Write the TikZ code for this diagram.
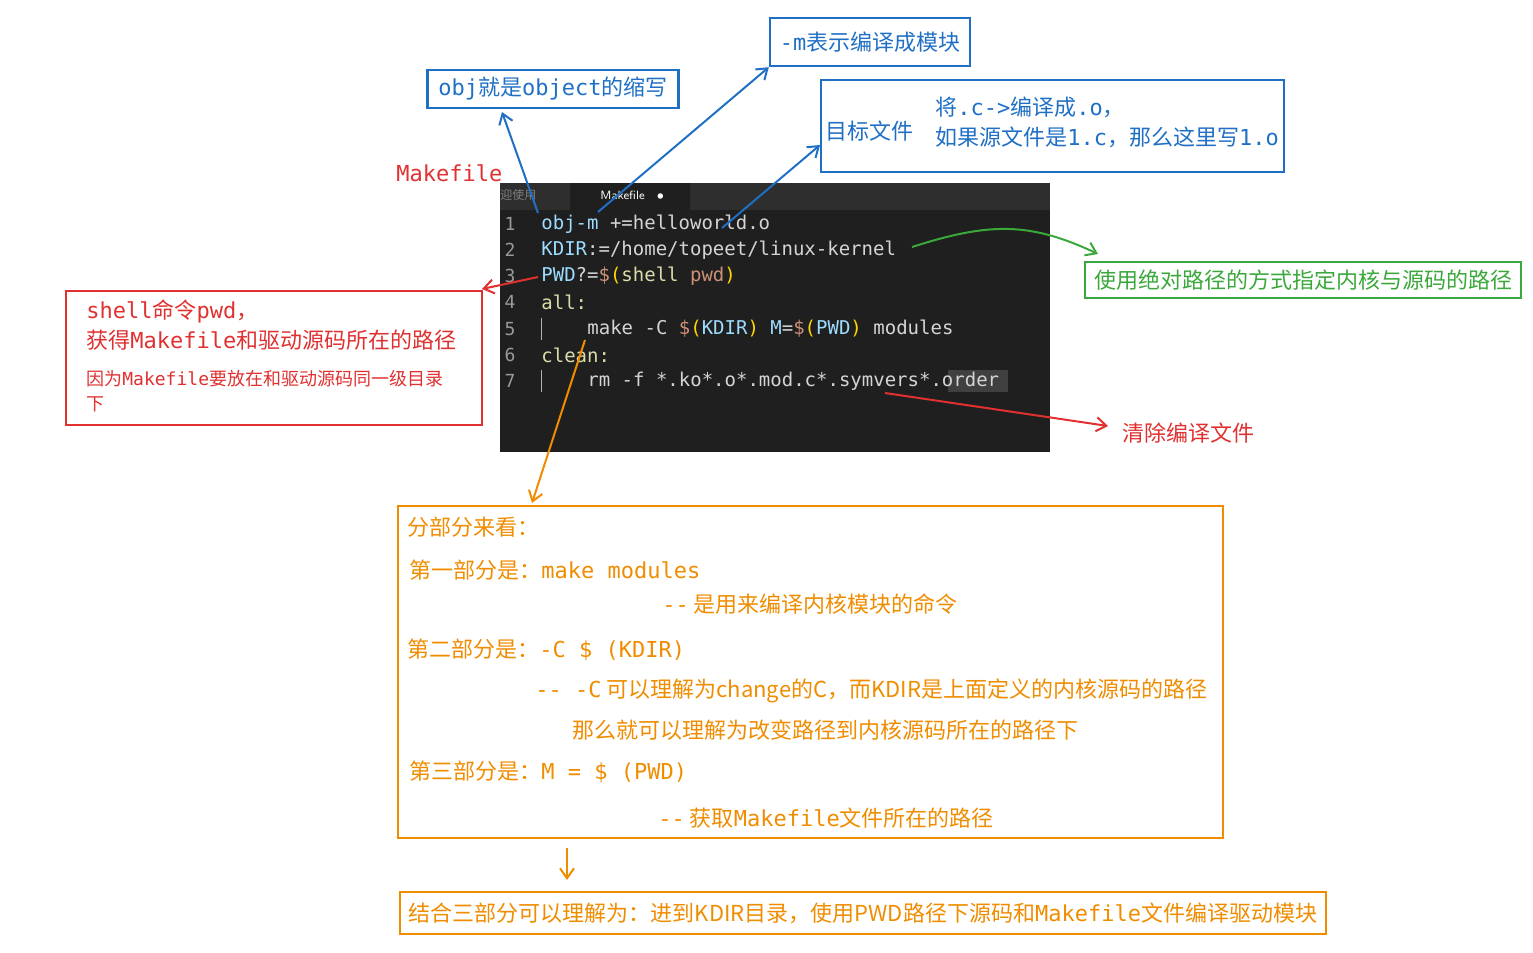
\documentclass[tikz,border=0pt]{standalone}
\usepackage{fontspec}
\setmainfont{Noto Sans CJK SC}
\setmonofont{DejaVu Sans Mono}
\usetikzlibrary{positioning, arrows.meta}
\definecolor{bl}{HTML}{1F6FC5}
\definecolor{rd}{HTML}{E03030}
\definecolor{gn}{HTML}{3AA83A}
\definecolor{og}{HTML}{F08C00}
\definecolor{kw}{HTML}{9CDCFE}
\definecolor{tx}{HTML}{D4D4D4}
\definecolor{st}{HTML}{CE9178}
\definecolor{yl}{HTML}{DCDCAA}
\definecolor{gl}{HTML}{FFD700}
\newcommand{\m}[1]{\texttt{#1}}
\tikzset{
  box/.style={draw=#1, line width=1.2pt, text=#1, inner sep=2pt},
  lbl/.style={anchor=west, inner sep=0pt, font=\fontsize{11}{13}\selectfont},
  code/.style={anchor=west, inner sep=0pt, font=\ttfamily\fontsize{9.5}{11}\selectfont, text=tx},
  num/.style={anchor=center, inner sep=0pt, font=\ttfamily\fontsize{9}{11}\selectfont, text=gray!80},
  arr/.style={->, >={Straight Barb[length=5pt,width=7pt]}, line width=1pt, draw=#1}
}
\begin{document}
\begin{tikzpicture}[x=0.5pt, y=-0.5pt]
    \useasboundingbox (0,0) rectangle (1533,953);
    % editor
    \fill[black!88] (500,183) rectangle (1050,452);
    \fill[black!82] (500,183) rectangle (1050,210);
    \fill[black!88] (570,183) rectangle (690,210);
    \node[code, text=gray, font=\fontsize{6}{7}\selectfont\itshape] at (500,195) {迎使用};
    \node[code, font=\sffamily\fontsize{6}{7}\selectfont, text=white] at (600,195) {Makefile\quad$\bullet$};
    \foreach \i/\y in {1/224,2/250,3/276,4/302,5/329,6/355,7/381}
      \node[num] at (510,\y) {\i};
    \draw[gray!60] (541,318) -- (541,340) (541,370) -- (541,392);
    \fill[black!75] (948,370) rectangle (1008,392);
    \node[code] (l1) at (541,224) {\textcolor{kw}{obj-m} +=helloworld.o};
    \node[code] (l2) at (541,250) {\textcolor{kw}{KDIR}:=/home/topeet/linux-kernel};
    \node[code] (l3) at (541,276) {\textcolor{kw}{PWD}?=\textcolor{st}{\$}\textcolor{gl}{(}\textcolor{yl}{shell} \textcolor{st}{pwd}\textcolor{gl}{)}};
    \node[code, text=yl] (l4) at (541,302) {all:};
    \node[code] (l5) at (587,329) {make -C \textcolor{st}{\$}\textcolor{gl}{(}\textcolor{kw}{KDIR}\textcolor{gl}{)} \textcolor{kw}{M}=\textcolor{st}{\$}\textcolor{gl}{(}\textcolor{kw}{PWD}\textcolor{gl}{)} modules};
    \node[code, text=yl] (l6) at (541,355) {clean:};
    \node[code] (l7) at (587,381) {rm -f *.ko*.o*.mod.c*.symvers*.order};
    % labels
    \node[lbl, text=rd] (mk) at (396,173) {\m{Makefile}};
    \node[box=bl, minimum width=125.5pt, minimum height=19pt, font=\fontsize{11}{13}\selectfont] (obj) at (553,89) {\m{obj}就是\m{object}的缩写};
    \node[box=bl, minimum width=100pt, minimum height=24pt, font=\fontsize{11}{13}\selectfont] (mod) at (870,42) {\m{-m}表示编译成模块};
    \draw[bl, line width=1.2pt] (821,80) rectangle (1284,172);
    \node[lbl, text=bl] (tgt) at (825,131) {目标文件};
    \node[lbl, text=bl] (tg1) at (935,107) {将\m{.c->}编译成\m{.o}，};
    \node[lbl, text=bl] (tg2) at (935,137) {如果源文件是\m{1.c}，那么这里写\m{1.o}};
    \node[box=gn, minimum width=218pt, minimum height=18pt, font=\fontsize{11}{13}\selectfont] (abs) at (1303,280) {使用绝对路径的方式指定内核与源码的路径};
    \draw[rd, line width=1.2pt] (66,291) rectangle (482,425);
    \node[lbl, text=rd] (sh1) at (86,311) {\m{shell}命令\m{pwd}，};
    \node[lbl, text=rd] (sh2) at (86,340) {获得\m{Makefile}和驱动源码所在的路径};
    \node[lbl, text=rd, font=\fontsize{9}{10}\selectfont] (sh3) at (86,379) {因为\m{Makefile}要放在和驱动源码同一级目录};
    \node[lbl, text=rd, font=\fontsize{9}{10}\selectfont] (sh4) at (86,404) {下};
    \node[lbl, text=rd] (cln) at (1122,433) {清除编译文件};
    % parts
    \draw[og, line width=1.2pt] (398,506) rectangle (1223,838);
    \begin{scope}[every node/.style={lbl, text=og}]
      \node (p0) at (407,527) {分部分来看：};
      \node (p1) at (409,570) {第一部分是：\m{make modules}};
      \node (p2) at (662,604) {\m{-{}-} 是用来编译内核模块的命令};
      \node (p3) at (407,650) {第二部分是：\m{-C \$ (KDIR)}};
      \node (p4) at (535,691) {\m{-{}- -C} 可以理解为change的C，而KDIR是上面定义的内核源码的路径};
      \node (p5) at (572,730) {那么就可以理解为改变路径到内核源码所在的路径下};
      \node (p6) at (409,772) {第三部分是：\m{M = \$ (PWD)}};
      \node (p7) at (658,818) {\m{-{}-} 获取\m{Makefile}文件所在的路径};
    \end{scope}
    \node[box=og, minimum width=463pt, minimum height=21pt, font=\fontsize{11}{13}\selectfont] (sum) at (863,913) {结合三部分可以理解为：进到KDIR目录，使用PWD路径下源码和\m{Makefile}文件编译驱动模块};
    % connectors
    \coordinate (a1) at (538,213); \coordinate (a2) at (598,212); \coordinate (a3) at (722,228);
    \coordinate (g1) at (912,247); \coordinate (r1) at (538,277); \coordinate (r2) at (885,393);
    \coordinate (o1) at (585,340); \coordinate (o2) at (567,848); \coordinate (o3) at (567,880);
    \draw[arr=bl] (a1) -- (502,112);
    \draw[arr=bl] (a2) -- (mod.south west);
    \draw[arr=bl] (a3) -- (820,145);
    \draw[arr=gn] (g1) .. controls (990,222) and (1030,222) .. (1098,254);
    \draw[arr=rd] (r1) -- (482,289);
    \draw[arr=rd] (r2) -- (1108,426);
    \draw[arr=og] (o1) -- (532,503);
    \draw[arr=og] (o2) -- (o3);
\end{tikzpicture}
\end{document}
